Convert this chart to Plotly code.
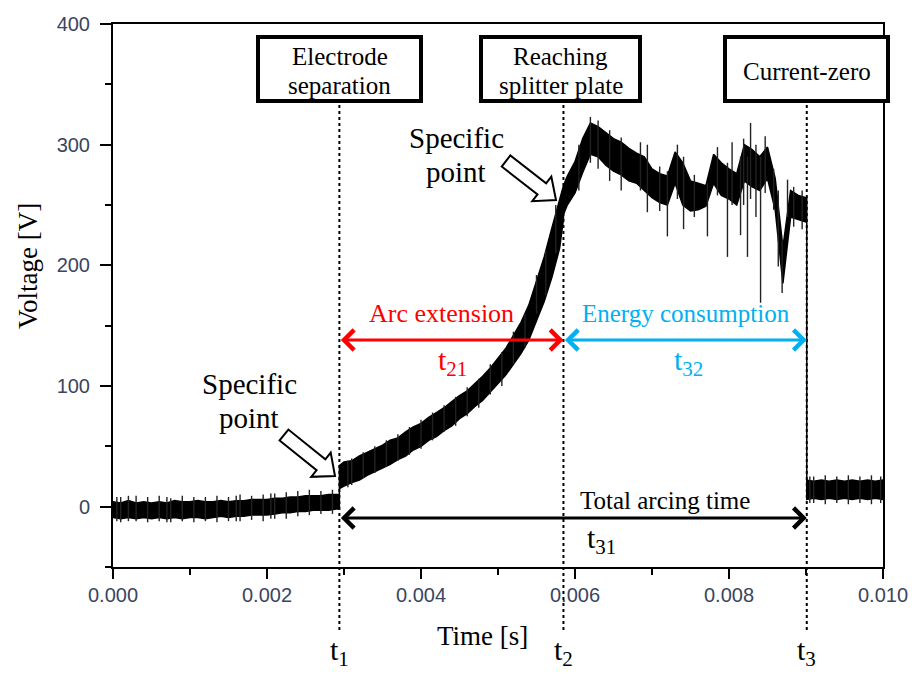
import plotly.graph_objects as go

# ---------------- data ----------------
# time in ms, voltage band (upper / lower envelope of the noisy trace) in V
seg_a_time_ms = [0.0, 0.1, 0.2, 0.3, 0.4, 0.5, 0.6, 0.7, 0.8, 0.9, 1.0, 1.1, 1.2, 1.3, 1.4, 1.5,
                 1.6, 1.7, 1.8, 1.9, 2.0, 2.1, 2.2, 2.3, 2.4, 2.5, 2.6, 2.7, 2.8, 2.9, 2.94]
seg_a_upper = [4, 3, 5, 3, 4, 3, 4, 3, 5, 4, 4, 5, 4, 4, 5, 4, 5, 5, 6, 6, 6, 7, 7, 8, 8, 9, 9, 9, 10, 10, 10]
seg_a_lower = [-9, -10, -9, -10, -9, -10, -9, -10, -9, -10, -9, -9, -10, -9, -8, -9, -8, -8, -7, -7,
               -7, -6, -5, -5, -4, -4, -3, -3, -3, -2, -2]

seg_b_time_ms = [2.94, 3.0, 3.1, 3.2, 3.3, 3.4, 3.5, 3.6, 3.7, 3.8, 3.9, 4.0, 4.1, 4.2, 4.3, 4.4,
                 4.5, 4.6, 4.7, 4.8, 4.9, 5.0, 5.1, 5.2, 5.3, 5.4, 5.5, 5.6, 5.7, 5.8, 5.85]
seg_b_upper = [34, 37, 38, 42, 45, 48, 51, 55, 57, 62, 66, 69, 74, 78, 82, 87, 92, 96, 102, 108,
               115, 123, 131, 142, 153, 167, 187, 207, 231, 256, 266]
seg_b_lower = [15, 17, 20, 22, 26, 29, 32, 35, 39, 42, 47, 50, 55, 58, 63, 67, 73, 77, 83, 88,
               95, 102, 109, 118, 127, 138, 154, 170, 190, 214, 238]

seg_c_time_ms = [5.85, 5.9, 6.0, 6.1, 6.2, 6.3, 6.4, 6.5, 6.6, 6.7, 6.8, 6.9, 7.0, 7.1, 7.2, 7.3, 7.4,
                 7.5, 7.6, 7.7, 7.8, 7.9, 8.0, 8.1, 8.2, 8.3, 8.4, 8.5, 8.6, 8.7, 8.8, 8.9, 9.0, 9.01]
seg_c_upper = [266, 274, 286, 305, 318, 315, 310, 305, 302, 297, 293, 290, 280, 276, 274, 294, 285,
               270, 268, 266, 292, 285, 280, 276, 300, 296, 290, 298, 272, 215, 262, 258, 256, 256]
seg_c_lower = [242, 250, 260, 277, 292, 290, 283, 278, 275, 270, 268, 262, 256, 252, 250, 268, 250,
               245, 246, 249, 268, 258, 255, 250, 270, 265, 262, 272, 246, 185, 240, 238, 236, 236]

seg_d_time_ms = [9.01, 9.1, 9.2, 9.3, 9.4, 9.5, 9.6, 9.7, 9.8, 9.9, 10.0]
seg_d_upper = [22, 21, 22, 21, 22, 21, 22, 21, 22, 21, 22]
seg_d_lower = [6, 7, 6, 7, 6, 7, 6, 7, 6, 7, 6]

# individual noise spikes: time (ms), low (V), high (V)
spike_time_ms = [0.05, 0.1, 0.2, 0.3, 0.45, 0.6, 0.7, 0.75, 0.9, 1.05, 1.2, 1.35, 1.5, 1.6, 1.65,
                 1.8, 1.95, 2.05, 2.1, 2.25, 2.4, 2.55, 2.7, 2.85,
                 3.05, 3.1, 3.25, 3.4, 3.55, 3.7, 3.85, 4.0, 4.15, 4.3, 4.45, 4.6, 4.75, 4.9,
                 5.05, 5.2, 5.35, 5.5, 5.62, 5.75,
                 6.05, 6.2, 6.3, 6.45, 6.6, 6.85, 6.94, 7.1, 7.2, 7.33, 7.41, 7.55, 7.72, 7.85,
                 7.98, 8.04, 8.15, 8.19, 8.24, 8.28, 8.35, 8.41, 8.47, 8.58, 8.64, 8.69, 8.76,
                 8.84, 8.95,
                 9.05, 9.1, 9.25, 9.4, 9.55, 9.7, 9.85, 9.97]
spike_low = [-12, -13, -12, -12, -13, -12, -13, -13, -12, -13, -12, -13, -12, -12, -12,
             -11, -12, -10, -10, -10, -8, -7, -6, -6,
             16, 18, 24, 28, 33, 38, 43, 48, 55, 62, 67, 75, 82, 93,
             100, 118, 132, 160, 175, 210,
             262, 285, 280, 270, 262, 262, 244, 245, 224, 255, 230, 240, 224, 258,
             207, 250, 225, 250, 207, 255, 240, 169, 260, 246, 199, 177, 240,
             232, 230,
             3, 3, 2, 3, 2, 3, 2, 3]
spike_high = [8, 8, 9, 9, 8, 9, 8, 7, 9, 8, 8, 9, 8, 9, 10,
              9, 10, 11, 11, 12, 13, 14, 13, 14,
              38, 40, 45, 50, 55, 60, 66, 72, 78, 84, 91, 99, 106, 118,
              128, 145, 160, 192, 212, 250,
              300, 323, 320, 312, 306, 302, 300, 282, 278, 300, 290, 275, 268, 298,
              285, 302, 290, 305, 290, 318, 300, 290, 307, 280, 262, 220, 271,
              265, 262,
              25, 25, 26, 25, 26, 25, 26, 25]

# event instants (s) and their labels
event_times = [0.00294, 0.00585, 0.00901]
event_labels = ["t<sub>1</sub>", "t<sub>2</sub>", "t<sub>3</sub>"]
box_texts = [["Electrode", "separation"], ["Reaching", "splitter plate"], ["Current-zero"]]

# axes
X_RANGE = [0.0, 0.010]
Y_RANGE = [-50, 400]
x_tick_vals = [0.000, 0.002, 0.004, 0.006, 0.008, 0.010]
x_tick_text = ["0.000", "0.002", "0.004", "0.006", "0.008", "0.010"]

# ---------------- geometry helpers ----------------
L, T, W, H = 113, 24, 770, 543
FIG_W, FIG_H = 922, 675


def pxx(px):
    return (px - L) / W


def pxy(py):
    return (T + H - py) / H


def tx(t):
    return (t - X_RANGE[0]) / (X_RANGE[1] - X_RANGE[0])


SERIF = "Liberation Serif, Times New Roman, serif"
SANS = "Liberation Sans, Arial, sans-serif"
TICK_COLOR = "#3a4560"

# ---------------- traces ----------------
times_ms = seg_a_time_ms + seg_b_time_ms + seg_c_time_ms + seg_d_time_ms
upper = seg_a_upper + seg_b_upper + seg_c_upper + seg_d_upper
lower = seg_a_lower + seg_b_lower + seg_c_lower + seg_d_lower
times_s = [t / 1000.0 for t in times_ms]

fig = go.Figure()
fig.add_trace(go.Scatter(
    x=times_s + times_s[::-1],
    y=upper + lower[::-1],
    mode="lines", fill="toself", fillcolor="black",
    line=dict(color="black", width=1.5),
    hoverinfo="skip", showlegend=False))

sx, sy = [], []
for t, lo, hi in zip(spike_time_ms, spike_low, spike_high):
    sx += [t / 1000.0, t / 1000.0, None]
    sy += [lo, hi, None]
fig.add_trace(go.Scatter(x=sx, y=sy, mode="lines",
                         line=dict(color="#222222", width=1.4),
                         hoverinfo="skip", showlegend=False))

shapes = []
annotations = []

# dotted event lines
for t in event_times:
    shapes.append(dict(type="line", xref="paper", yref="paper",
                       x0=tx(t), x1=tx(t), y0=pxy(630), y1=pxy(103),
                       line=dict(color="black", width=2, dash="dot")))

# event boxes
box_px = [(258, 421), (481, 640), (725, 888)]
for (x0, x1), lines in zip(box_px, box_texts):
    shapes.append(dict(type="rect", xref="paper", yref="paper",
                       x0=pxx(x0), x1=pxx(x1), y0=pxy(101), y1=pxy(37),
                       line=dict(color="black", width=4), fillcolor="white"))
    cx = (x0 + x1) / 2
    ys = [57, 85] if len(lines) == 2 else [71]
    for txt, yy in zip(lines, ys):
        annotations.append(dict(text=txt, xref="paper", yref="paper",
                                x=pxx(cx), y=pxy(yy), xanchor="center", yanchor="middle",
                                showarrow=False, font=dict(family=SERIF, size=25, color="black")))


# hollow block arrows
def block_arrow(tail, tip, shw=7.0, hhw=15.5, hlen=18.0):
    dx, dy = tip[0] - tail[0], tip[1] - tail[1]
    ln = (dx * dx + dy * dy) ** 0.5
    ux, uy = dx / ln, dy / ln
    nx, ny = -uy, ux
    bx, by = tip[0] - ux * hlen, tip[1] - uy * hlen
    pts = [(tail[0] + nx * shw, tail[1] + ny * shw),
           (bx + nx * shw, by + ny * shw),
           (bx + nx * hhw, by + ny * hhw),
           tip,
           (bx - nx * hhw, by - ny * hhw),
           (bx - nx * shw, by - ny * shw),
           (tail[0] - nx * shw, tail[1] - ny * shw)]
    path = "M " + " L ".join(f"{pxx(px):.5f},{pxy(py):.5f}" for px, py in pts) + " Z"
    return dict(type="path", xref="paper", yref="paper", path=path,
                line=dict(color="black", width=2), fillcolor="white")


shapes.append(block_arrow((284, 435), (335, 476)))
shapes.append(block_arrow((506, 161), (556, 200)))

# "Specific point" labels
for cx, y1, y2 in [(249, 384, 418), (456, 138, 172)]:
    annotations.append(dict(text="Specific", xref="paper", yref="paper", x=pxx(cx), y=pxy(y1),
                            xanchor="center", yanchor="middle", showarrow=False,
                            font=dict(family=SERIF, size=29, color="black")))
    annotations.append(dict(text="point", xref="paper", yref="paper", x=pxx(cx), y=pxy(y2),
                            xanchor="center", yanchor="middle", showarrow=False,
                            font=dict(family=SERIF, size=29, color="black")))

# double arrows
RED = "#ff0000"
BLUE = "#00b0f0"
arrow_specs = [(event_times[0], event_times[1], 340, RED),
               (event_times[1], event_times[2], 340, BLUE),
               (event_times[0], event_times[2], 518, "black")]
for t0, t1, ypx, col in arrow_specs:
    annotations.append(dict(text="", x=t1, y=pxy(ypx), xref="x", yref="paper",
                            ax=t0, ay=0, axref="x", ayref="pixel",
                            showarrow=True, arrowside="end+start",
                            arrowhead=4, startarrowhead=4, arrowsize=1.3, startarrowsize=1.3,
                            arrowwidth=3, arrowcolor=col, standoff=0, startstandoff=0))

# arrow labels
label_specs = [("Arc extension", 441, 313, 26, RED),
               ("t<sub>21</sub>", 452, 362, 30, RED),
               ("Energy consumption", 686, 313, 25, BLUE),
               ("t<sub>32</sub>", 688, 362, 30, BLUE),
               ("Total arcing time", 665, 500, 25, "black"),
               ("t<sub>31</sub>", 601, 540, 30, "black")]
for txt, cx, cy, sz, col in label_specs:
    annotations.append(dict(text=txt, xref="paper", yref="paper", x=pxx(cx), y=pxy(cy),
                            xanchor="center", yanchor="middle", showarrow=False,
                            font=dict(family=SERIF, size=sz, color=col)))

# event labels under the axis
for t, lab in zip(event_times, event_labels):
    annotations.append(dict(text=lab, xref="x", yref="paper", x=t, y=pxy(652),
                            xanchor="center", yanchor="middle", showarrow=False,
                            font=dict(family=SERIF, size=30, color="black")))

# x tick labels (placed on the x scale, closer to the axis than plotly's default)
for v, s in zip(x_tick_vals, x_tick_text):
    annotations.append(dict(text=s, xref="x", yref="paper", x=v, y=pxy(595),
                            xanchor="center", yanchor="middle", showarrow=False,
                            font=dict(family=SANS, size=20, color=TICK_COLOR)))

# axis titles
annotations.append(dict(text="Voltage [V]", xref="paper", yref="paper", x=pxx(28), y=pxy(266),
                        textangle=-90, xanchor="center", yanchor="middle", showarrow=False,
                        font=dict(family=SERIF, size=27, color="black")))
annotations.append(dict(text="Time [s]", xref="paper", yref="paper", x=pxx(482), y=pxy(636),
                        xanchor="center", yanchor="middle", showarrow=False,
                        font=dict(family=SERIF, size=27, color="black")))

fig.update_layout(
    width=FIG_W, height=FIG_H,
    margin=dict(l=L, r=FIG_W - L - W, t=T, b=FIG_H - T - H),
    paper_bgcolor="white", plot_bgcolor="white",
    showlegend=False,
    shapes=shapes, annotations=annotations,
    xaxis=dict(range=X_RANGE, tickvals=x_tick_vals, showticklabels=False,
               showgrid=False, zeroline=False,
               showline=True, linecolor="black", linewidth=2, mirror=True,
               ticks="outside", ticklen=10, tickwidth=2, tickcolor="black",
               minor=dict(dtick=0.001, tick0=0, ticks="outside", ticklen=6, tickwidth=2,
                          tickcolor="black")),
    yaxis=dict(range=Y_RANGE, dtick=100, tick0=0,
               showgrid=False, zeroline=False,
               showline=True, linecolor="black", linewidth=2, mirror=True,
               ticks="outside", ticklen=11, tickwidth=2, tickcolor="black",
               minor=dict(dtick=50, ticks="outside", ticklen=6, tickwidth=2, tickcolor="black"),
               tickfont=dict(family=SANS, size=20, color=TICK_COLOR), ticklabelstandoff=6),
)

fig.write_html("out.html")
